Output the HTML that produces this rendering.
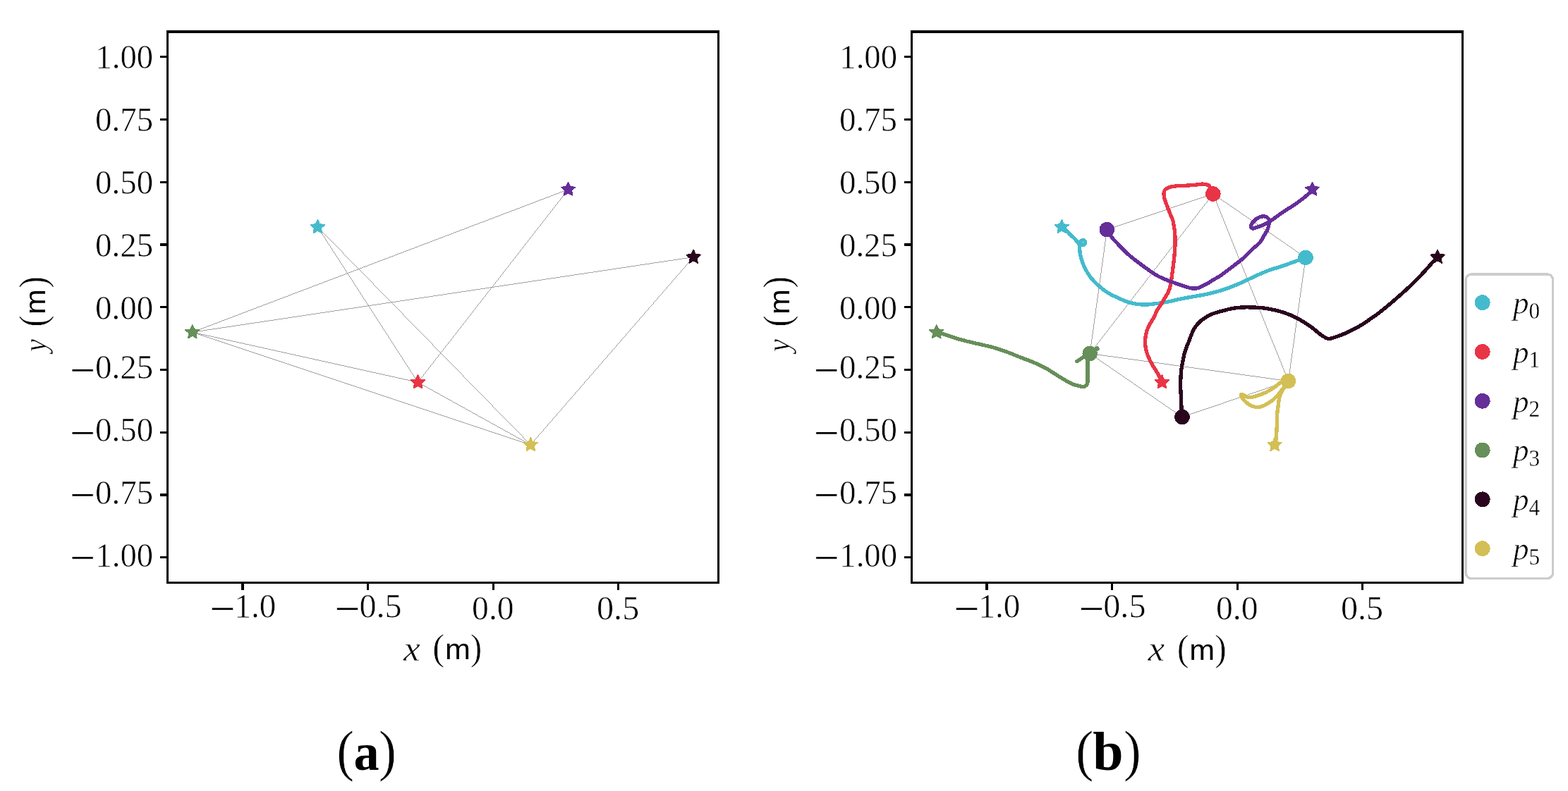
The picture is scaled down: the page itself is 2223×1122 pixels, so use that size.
<!DOCTYPE html><html><head><meta charset="utf-8"><title>Trajectories</title>
<style>html,body{margin:0;padding:0;background:#fff;overflow:hidden}svg{display:block}text{fill:#000;stroke:#fff;stroke-width:0.6px;stroke-linejoin:round}</style></head><body>
<svg width="2223" height="1122" viewBox="0 0 2223 1122">
<rect width="2223" height="1122" fill="#fff"/>
<g>
<line x1="272.82" y1="471.21" x2="805.54" y2="268.78" stroke="#999999" stroke-width="0.935" shape-rendering="crispEdges"/>
<line x1="272.82" y1="471.21" x2="983.12" y2="364.67" stroke="#9f9f9f" stroke-width="0.989" shape-rendering="crispEdges"/>
<line x1="272.82" y1="471.21" x2="592.46" y2="542.25" stroke="#9e9e9e" stroke-width="0.976" shape-rendering="crispEdges"/>
<line x1="272.82" y1="471.21" x2="752.27" y2="631.03" stroke="#9b9b9b" stroke-width="0.949" shape-rendering="crispEdges"/>
<line x1="450.40" y1="322.05" x2="592.46" y2="542.25" stroke="#8e8e8e" stroke-width="0.840" shape-rendering="crispEdges"/>
<line x1="450.40" y1="322.05" x2="752.27" y2="631.03" stroke="#7a7a7a" stroke-width="0.715" shape-rendering="crispEdges"/>
<line x1="805.54" y1="268.78" x2="592.46" y2="542.25" stroke="#878787" stroke-width="0.789" shape-rendering="crispEdges"/>
<line x1="983.12" y1="364.67" x2="752.27" y2="631.03" stroke="#818181" stroke-width="0.756" shape-rendering="crispEdges"/>
<line x1="592.46" y1="542.25" x2="752.27" y2="631.03" stroke="#929292" stroke-width="0.874" shape-rendering="crispEdges"/>
<g shape-rendering="crispEdges"><polygon points="450.40,311.95 447.54,318.13 440.79,318.93 445.78,323.55 444.46,330.22 450.40,326.90 456.33,330.22 455.01,323.55 460.00,318.93 453.25,318.13" fill="#44bbcc" stroke="#44bbcc" stroke-width="1.8" stroke-linejoin="round"/></g>
<g shape-rendering="crispEdges"><polygon points="592.46,532.14 589.60,538.32 582.85,539.12 587.84,543.74 586.52,550.42 592.46,547.10 598.39,550.42 597.07,543.74 602.06,539.12 595.31,538.32" fill="#e93446" stroke="#e93446" stroke-width="1.8" stroke-linejoin="round"/></g>
<g shape-rendering="crispEdges"><polygon points="805.54,258.68 802.69,264.86 795.94,265.66 800.93,270.28 799.61,276.95 805.54,273.63 811.48,276.95 810.16,270.28 815.15,265.66 808.40,264.86" fill="#662e99" stroke="#662e99" stroke-width="1.8" stroke-linejoin="round"/></g>
<g shape-rendering="crispEdges"><polygon points="272.82,461.11 269.97,467.29 263.21,468.09 268.21,472.71 266.88,479.39 272.82,476.06 278.76,479.39 277.43,472.71 282.43,468.09 275.67,467.29" fill="#678f59" stroke="#678f59" stroke-width="1.8" stroke-linejoin="round"/></g>
<g shape-rendering="crispEdges"><polygon points="983.12,354.57 980.27,360.75 973.51,361.55 978.51,366.17 977.18,372.84 983.12,369.52 989.06,372.84 987.73,366.17 992.73,361.55 985.97,360.75" fill="#2a061e" stroke="#2a061e" stroke-width="1.8" stroke-linejoin="round"/></g>
<g shape-rendering="crispEdges"><polygon points="752.27,620.93 749.42,627.11 742.67,627.91 747.66,632.53 746.34,639.20 752.27,635.88 758.21,639.20 756.89,632.53 761.88,627.91 755.12,627.11" fill="#d3bf55" stroke="#d3bf55" stroke-width="1.8" stroke-linejoin="round"/></g>
</g>
<g>
<line x1="1719.85" y1="275.05" x2="1569.40" y2="325.60" stroke="#9b9b9b" stroke-width="0.948" shape-rendering="crispEdges"/>
<line x1="1719.85" y1="275.05" x2="1545.20" y2="501.50" stroke="#878787" stroke-width="0.792" shape-rendering="crispEdges"/>
<line x1="1719.85" y1="275.05" x2="1851.00" y2="365.30" stroke="#8c8c8c" stroke-width="0.824" shape-rendering="crispEdges"/>
<line x1="1719.85" y1="275.05" x2="1826.50" y2="540.50" stroke="#999999" stroke-width="0.928" shape-rendering="crispEdges"/>
<line x1="1569.40" y1="325.60" x2="1545.20" y2="501.50" stroke="#9f9f9f" stroke-width="0.991" shape-rendering="crispEdges"/>
<line x1="1851.00" y1="365.30" x2="1826.50" y2="540.50" stroke="#9f9f9f" stroke-width="0.990" shape-rendering="crispEdges"/>
<line x1="1545.20" y1="501.50" x2="1826.50" y2="540.50" stroke="#9f9f9f" stroke-width="0.991" shape-rendering="crispEdges"/>
<line x1="1545.20" y1="501.50" x2="1676.00" y2="591.50" stroke="#8c8c8c" stroke-width="0.824" shape-rendering="crispEdges"/>
<line x1="1676.00" y1="591.50" x2="1826.50" y2="540.50" stroke="#9b9b9b" stroke-width="0.947" shape-rendering="crispEdges"/>
<g shape-rendering="crispEdges">
<path d="M1505.40,322.10C1506.40,322.87 1509.22,324.75 1511.40,326.70C1513.58,328.65 1516.05,331.35 1518.50,333.80C1520.95,336.25 1524.22,339.28 1526.10,341.40C1527.98,343.52 1529.03,344.60 1529.80,346.50C1530.57,348.40 1530.40,350.27 1530.70,352.80C1531.00,355.33 1530.93,358.43 1531.60,361.70C1532.27,364.97 1533.37,368.83 1534.70,372.40C1536.03,375.97 1537.75,379.68 1539.60,383.10C1541.45,386.52 1543.42,389.78 1545.80,392.90C1548.18,396.02 1551.07,398.98 1553.90,401.80C1556.73,404.62 1559.53,407.27 1562.80,409.80C1566.07,412.33 1569.80,414.88 1573.50,417.00C1577.20,419.12 1580.75,420.60 1585.00,422.50C1589.25,424.40 1594.42,426.90 1599.00,428.40C1603.58,429.90 1608.00,430.90 1612.50,431.50C1617.00,432.10 1622.25,432.07 1626.00,432.00C1629.75,431.93 1632.00,431.43 1635.00,431.10C1638.00,430.77 1640.25,430.57 1644.00,430.00C1647.75,429.43 1653.00,428.60 1657.50,427.70C1662.00,426.80 1665.58,425.72 1671.00,424.60C1676.42,423.48 1683.08,422.28 1690.00,421.00C1696.92,419.72 1705.00,418.60 1712.50,416.90C1720.00,415.20 1727.50,413.28 1735.00,410.80C1742.50,408.32 1750.00,405.22 1757.50,402.00C1765.00,398.78 1773.25,394.53 1780.00,391.50C1786.75,388.47 1792.00,386.05 1798.00,383.80C1804.00,381.55 1810.00,380.02 1816.00,378.00C1822.00,375.98 1828.17,373.82 1834.00,371.70C1839.83,369.58 1848.17,366.37 1851.00,365.30" fill="none" stroke="#44bbcc" stroke-width="5.30" stroke-linejoin="round" stroke-linecap="round"/>
<circle cx="1535.3" cy="343.9" r="3.3" fill="none" stroke="#44bbcc" stroke-width="5.6"/>
<circle cx="1851.00" cy="365.30" r="10.75" fill="#44bbcc"/>
<polygon points="1505.30,311.95 1502.44,318.13 1495.69,318.93 1500.68,323.55 1499.36,330.22 1505.30,326.90 1511.23,330.22 1509.91,323.55 1514.90,318.93 1508.15,318.13" fill="#44bbcc" stroke="#44bbcc" stroke-width="1.8" stroke-linejoin="round"/>
<path d="M1719.85,275.05C1718.96,273.18 1716.28,266.04 1714.50,263.80C1712.72,261.56 1710.98,262.05 1709.20,261.60C1707.42,261.15 1706.48,260.97 1703.80,261.10C1701.12,261.23 1697.55,262.00 1693.10,262.40C1688.65,262.80 1681.55,263.23 1677.10,263.50C1672.65,263.77 1669.52,263.68 1666.40,264.00C1663.28,264.32 1660.63,264.73 1658.40,265.40C1656.17,266.07 1654.35,266.85 1653.00,268.00C1651.65,269.15 1650.75,270.52 1650.30,272.30C1649.85,274.08 1650.02,276.55 1650.30,278.70C1650.58,280.85 1651.28,282.97 1652.00,285.20C1652.72,287.43 1653.72,289.78 1654.60,292.10C1655.48,294.42 1656.40,296.78 1657.30,299.10C1658.20,301.42 1658.98,303.35 1660.00,306.00C1661.02,308.65 1662.38,309.78 1663.40,315.00C1664.42,320.22 1665.80,329.87 1666.10,337.30C1666.40,344.73 1665.77,352.18 1665.20,359.60C1664.63,367.02 1663.65,374.32 1662.70,381.80C1661.75,389.28 1660.60,399.05 1659.50,404.50C1658.40,409.95 1657.48,411.42 1656.10,414.50C1654.72,417.58 1652.92,420.08 1651.20,423.00C1649.48,425.92 1647.57,429.17 1645.80,432.00C1644.03,434.83 1642.23,437.03 1640.60,440.00C1638.97,442.97 1637.72,446.53 1636.00,449.80C1634.28,453.07 1631.98,456.33 1630.30,459.60C1628.62,462.87 1626.97,466.13 1625.90,469.40C1624.83,472.67 1624.27,475.93 1623.90,479.20C1623.53,482.47 1623.45,485.73 1623.70,489.00C1623.95,492.27 1624.50,495.53 1625.40,498.80C1626.30,502.07 1627.63,505.33 1629.10,508.60C1630.57,511.87 1632.32,515.13 1634.20,518.40C1636.08,521.67 1638.20,524.23 1640.40,528.20C1642.60,532.17 1646.23,539.87 1647.40,542.20" fill="none" stroke="#e93446" stroke-width="5.30" stroke-linejoin="round" stroke-linecap="round"/>
<circle cx="1719.85" cy="275.05" r="10.75" fill="#e93446"/>
<polygon points="1647.36,532.14 1644.50,538.32 1637.75,539.12 1642.74,543.74 1641.42,550.42 1647.36,547.10 1653.29,550.42 1651.97,543.74 1656.96,539.12 1650.21,538.32" fill="#e93446" stroke="#e93446" stroke-width="1.8" stroke-linejoin="round"/>
<path d="M1569.40,325.60C1570.50,327.40 1573.12,332.67 1576.00,336.40C1578.88,340.13 1582.68,343.85 1586.70,348.00C1590.72,352.15 1595.63,357.30 1600.10,361.30C1604.57,365.30 1609.05,368.58 1613.50,372.00C1617.95,375.42 1622.35,378.67 1626.80,381.80C1631.25,384.93 1635.73,388.27 1640.20,390.80C1644.67,393.33 1649.13,395.15 1653.60,397.00C1658.07,398.85 1662.55,400.33 1667.00,401.90C1671.45,403.47 1676.47,405.22 1680.30,406.40C1684.13,407.58 1686.88,408.68 1690.00,409.00C1693.12,409.32 1695.25,409.50 1699.00,408.30C1702.75,407.10 1709.00,403.68 1712.50,401.80C1716.00,399.92 1717.27,398.65 1720.00,397.00C1722.73,395.35 1725.93,393.83 1728.90,391.90C1731.87,389.97 1734.83,387.58 1737.80,385.40C1740.77,383.22 1743.72,381.07 1746.70,378.80C1749.68,376.53 1752.72,374.18 1755.70,371.80C1758.68,369.42 1761.38,367.48 1764.60,364.50C1767.82,361.52 1771.42,357.30 1775.00,353.90C1778.58,350.50 1783.27,347.37 1786.10,344.10C1788.93,340.83 1790.28,337.15 1792.00,334.30C1793.72,331.45 1795.27,329.45 1796.40,327.00C1797.53,324.55 1798.32,322.05 1798.80,319.60C1799.28,317.15 1799.70,314.18 1799.30,312.30C1798.90,310.42 1797.53,309.20 1796.40,308.30C1795.27,307.40 1794.05,307.05 1792.50,306.90C1790.95,306.75 1788.82,306.92 1787.10,307.40C1785.38,307.88 1783.77,308.75 1782.20,309.80C1780.63,310.85 1779.02,312.32 1777.70,313.70C1776.38,315.08 1775.03,316.70 1774.30,318.10C1773.57,319.50 1773.05,321.12 1773.30,322.10C1773.55,323.08 1774.90,323.77 1775.80,324.00C1776.70,324.23 1776.82,324.07 1778.70,323.50C1780.58,322.93 1784.48,321.65 1787.10,320.60C1789.72,319.55 1792.20,318.30 1794.40,317.20C1796.60,316.10 1798.25,315.27 1800.30,314.00C1802.35,312.73 1804.42,311.22 1806.70,309.60C1808.98,307.98 1811.55,306.05 1814.00,304.30C1816.45,302.55 1818.38,301.08 1821.40,299.10C1824.42,297.12 1828.53,294.75 1832.10,292.40C1835.67,290.05 1839.23,287.67 1842.80,285.00C1846.37,282.33 1850.55,279.10 1853.50,276.40C1856.45,273.70 1859.33,270.07 1860.50,268.80" fill="none" stroke="#662e99" stroke-width="5.30" stroke-linejoin="round" stroke-linecap="round"/>
<circle cx="1569.40" cy="325.60" r="10.75" fill="#662e99"/>
<polygon points="1860.45,258.68 1857.59,264.86 1850.84,265.66 1855.83,270.28 1854.51,276.95 1860.45,273.63 1866.38,276.95 1865.06,270.28 1870.05,265.66 1863.30,264.86" fill="#662e99" stroke="#662e99" stroke-width="1.8" stroke-linejoin="round"/>
<path d="M1328.00,471.20C1329.83,471.72 1334.17,472.77 1339.00,474.30C1343.83,475.83 1351.00,478.60 1357.00,480.40C1363.00,482.20 1369.00,483.63 1375.00,485.10C1381.00,486.57 1387.00,487.77 1393.00,489.20C1399.00,490.63 1405.00,491.93 1411.00,493.70C1417.00,495.47 1423.00,497.58 1429.00,499.80C1435.00,502.02 1441.00,504.65 1447.00,507.00C1453.00,509.35 1459.00,511.32 1465.00,513.90C1471.00,516.48 1477.02,519.20 1483.00,522.50C1488.98,525.80 1494.92,530.10 1500.90,533.70C1506.88,537.30 1514.05,541.80 1518.90,544.10C1523.75,546.40 1527.15,546.77 1530.00,547.50C1532.85,548.23 1534.30,548.67 1536.00,548.50C1537.70,548.33 1539.20,547.50 1540.20,546.50C1541.20,545.50 1541.68,545.25 1542.00,542.50C1542.32,539.75 1542.08,535.08 1542.10,530.00C1542.12,524.92 1541.58,516.75 1542.10,512.00C1542.62,507.25 1544.68,503.25 1545.20,501.50" fill="none" stroke="#678f59" stroke-width="5.30" stroke-linejoin="round" stroke-linecap="round"/>
<path d="M1526.8,512.6 L1536.0,506.5" fill="none" stroke="#678f59" stroke-width="5.20" stroke-linejoin="round" stroke-linecap="round"/>
<path d="M1548.0,499.0 L1555.3,494.6" fill="none" stroke="#678f59" stroke-width="6.60" stroke-linejoin="round" stroke-linecap="round"/>
<circle cx="1545.20" cy="501.50" r="10.75" fill="#678f59"/>
<polygon points="1327.72,461.11 1324.87,467.29 1318.11,468.09 1323.11,472.71 1321.78,479.39 1327.72,476.06 1333.66,479.39 1332.33,472.71 1337.33,468.09 1330.57,467.29" fill="#678f59" stroke="#678f59" stroke-width="1.8" stroke-linejoin="round"/>
<path d="M1676.00,591.50C1675.85,589.57 1675.37,584.68 1675.10,579.90C1674.83,575.12 1674.65,568.33 1674.40,562.80C1674.15,557.27 1673.67,551.33 1673.60,546.70C1673.53,542.07 1673.77,538.95 1674.00,535.00C1674.23,531.05 1674.53,526.63 1675.00,523.00C1675.47,519.37 1676.18,516.47 1676.80,513.20C1677.42,509.93 1677.88,506.67 1678.70,503.40C1679.52,500.13 1680.55,496.83 1681.70,493.60C1682.85,490.37 1684.40,487.08 1685.60,484.00C1686.80,480.92 1687.75,477.92 1688.90,475.10C1690.05,472.28 1691.23,469.40 1692.50,467.10C1693.77,464.80 1695.02,463.17 1696.50,461.30C1697.98,459.43 1699.70,457.47 1701.40,455.90C1703.10,454.33 1704.70,453.23 1706.70,451.90C1708.70,450.57 1711.17,449.08 1713.40,447.90C1715.63,446.72 1717.50,445.77 1720.10,444.80C1722.70,443.83 1726.35,442.87 1729.00,442.10C1731.65,441.33 1733.50,440.85 1736.00,440.20C1738.50,439.55 1741.13,438.80 1744.00,438.20C1746.87,437.60 1750.03,436.98 1753.20,436.60C1756.37,436.22 1758.50,435.98 1763.00,435.90C1767.50,435.82 1775.08,435.87 1780.20,436.10C1785.32,436.33 1789.20,436.68 1793.70,437.30C1798.20,437.92 1802.70,438.75 1807.20,439.80C1811.70,440.85 1816.20,442.07 1820.70,443.60C1825.20,445.13 1829.70,446.87 1834.20,449.00C1838.70,451.13 1843.20,453.65 1847.70,456.40C1852.20,459.15 1857.27,462.58 1861.20,465.50C1865.13,468.42 1867.92,471.48 1871.30,473.90C1874.68,476.32 1878.68,479.03 1881.50,480.00C1884.32,480.97 1885.40,480.32 1888.20,479.70C1891.00,479.08 1894.67,477.65 1898.30,476.30C1901.93,474.95 1905.27,473.82 1910.00,471.60C1914.73,469.38 1921.68,465.88 1926.70,463.00C1931.72,460.12 1935.63,457.32 1940.10,454.30C1944.57,451.28 1949.05,448.23 1953.50,444.90C1957.95,441.57 1962.35,437.97 1966.80,434.30C1971.25,430.63 1975.73,426.80 1980.20,422.90C1984.67,419.00 1989.13,415.02 1993.60,410.90C1998.07,406.78 2002.55,402.67 2007.00,398.20C2011.45,393.73 2016.30,388.45 2020.30,384.10C2024.30,379.75 2028.05,375.33 2031.00,372.10C2033.95,368.87 2036.83,365.93 2038.00,364.70" fill="none" stroke="#2a061e" stroke-width="5.30" stroke-linejoin="round" stroke-linecap="round"/>
<circle cx="1676.00" cy="591.50" r="10.75" fill="#2a061e"/>
<polygon points="2038.02,354.57 2035.17,360.75 2028.41,361.55 2033.41,366.17 2032.08,372.84 2038.02,369.52 2043.96,372.84 2042.63,366.17 2047.63,361.55 2040.87,360.75" fill="#2a061e" stroke="#2a061e" stroke-width="1.8" stroke-linejoin="round"/>
<path d="M1826.50,540.50C1824.70,540.87 1818.72,541.43 1815.70,542.70C1812.68,543.97 1810.85,546.38 1808.40,548.10C1805.95,549.82 1803.45,551.52 1801.00,553.00C1798.55,554.48 1796.15,555.85 1793.70,557.00C1791.25,558.15 1788.75,559.00 1786.30,559.90C1783.85,560.80 1781.45,561.75 1779.00,562.40C1776.55,563.05 1773.65,563.80 1771.60,563.80C1769.55,563.80 1768.33,563.05 1766.70,562.40C1765.07,561.75 1763.03,560.22 1761.80,559.90C1760.57,559.58 1759.47,559.85 1759.30,560.50C1759.13,561.15 1759.97,562.52 1760.80,563.80C1761.63,565.08 1762.90,566.73 1764.30,568.20C1765.70,569.67 1767.57,571.37 1769.20,572.60C1770.83,573.83 1772.07,574.78 1774.10,575.60C1776.13,576.42 1778.95,577.33 1781.40,577.50C1783.85,577.67 1786.35,577.33 1788.80,576.60C1791.25,575.87 1793.65,574.50 1796.10,573.10C1798.55,571.70 1801.45,569.75 1803.50,568.20C1805.55,566.65 1806.77,565.43 1808.40,563.80C1810.03,562.17 1811.83,560.20 1813.30,558.40C1814.77,556.60 1815.98,554.47 1817.20,553.00C1818.42,551.53 1820.03,550.17 1820.60,549.60" fill="none" stroke="#d3bf55" stroke-width="5.30" stroke-linejoin="round" stroke-linecap="round"/>
<path d="M1820.60,549.60C1820.23,550.25 1819.30,551.87 1818.40,553.50C1817.50,555.13 1816.05,557.18 1815.20,559.40C1814.35,561.62 1813.83,563.93 1813.30,566.80C1812.77,569.67 1812.40,573.57 1812.00,576.60C1811.60,579.63 1811.13,581.95 1810.90,585.00C1810.67,588.05 1810.80,589.68 1810.60,594.90C1810.40,600.12 1810.05,610.95 1809.70,616.30C1809.35,621.65 1808.92,624.55 1808.50,627.00C1808.08,629.45 1807.42,630.33 1807.20,631.00" fill="none" stroke="#d3bf55" stroke-width="5.30" stroke-linejoin="round" stroke-linecap="round"/>
<circle cx="1826.50" cy="540.50" r="10.75" fill="#d3bf55"/>
<polygon points="1807.17,620.93 1804.32,627.11 1797.57,627.91 1802.56,632.53 1801.24,639.20 1807.17,635.88 1813.11,639.20 1811.79,632.53 1816.78,627.91 1810.02,627.11" fill="#d3bf55" stroke="#d3bf55" stroke-width="1.8" stroke-linejoin="round"/>
</g>
</g>
<rect x="237.50" y="45.05" width="781.00" height="781.35" fill="none" stroke="#000" stroke-width="3.20" shape-rendering="crispEdges"/>
<path d="M237.50,80.55H227.20M237.50,169.34H227.20M237.50,258.12H227.20M237.50,346.91H227.20M237.50,435.70H227.20M237.50,524.49H227.20M237.50,613.27H227.20M237.50,702.06H227.20M237.50,790.85H227.20M344.04,826.40V836.80M521.62,826.40V836.80M699.19,826.40V836.80M876.77,826.40V836.80" stroke="#000" stroke-width="3.20" fill="none" shape-rendering="crispEdges"/>
<rect x="1292.40" y="45.05" width="781.00" height="781.35" fill="none" stroke="#000" stroke-width="3.20" shape-rendering="crispEdges"/>
<path d="M1292.40,80.55H1282.10M1292.40,169.34H1282.10M1292.40,258.12H1282.10M1292.40,346.91H1282.10M1292.40,435.70H1282.10M1292.40,524.49H1282.10M1292.40,613.27H1282.10M1292.40,702.06H1282.10M1292.40,790.85H1282.10M1398.95,826.40V836.80M1576.52,826.40V836.80M1754.10,826.40V836.80M1931.67,826.40V836.80" stroke="#000" stroke-width="3.20" fill="none" shape-rendering="crispEdges"/>
<rect x="2078.0" y="389.0" width="123.7" height="431.5" rx="8" ry="8" fill="#fff" stroke="#cccccc" stroke-width="3.4" shape-rendering="crispEdges"/>
<circle cx="2101.7" cy="429.20" r="10.9" fill="#44bbcc" shape-rendering="crispEdges"/>
<circle cx="2101.7" cy="498.98" r="10.9" fill="#e93446" shape-rendering="crispEdges"/>
<circle cx="2101.7" cy="568.76" r="10.9" fill="#662e99" shape-rendering="crispEdges"/>
<circle cx="2101.7" cy="638.54" r="10.9" fill="#678f59" shape-rendering="crispEdges"/>
<circle cx="2101.7" cy="708.32" r="10.9" fill="#2a061e" shape-rendering="crispEdges"/>
<circle cx="2101.7" cy="778.10" r="10.9" fill="#d3bf55" shape-rendering="crispEdges"/>
<text transform="matrix(0.9634,0,0,1,135.40,97.47)" style="font-family:'Liberation Serif', 'DejaVu Serif', serif;font-size:48.48px;">1.00</text>
<text transform="matrix(0.9675,0,0,1,135.05,186.25)" style="font-family:'Liberation Serif', 'DejaVu Serif', serif;font-size:48.48px;">0.75</text>
<text transform="matrix(0.9675,0,0,1,135.05,275.04)" style="font-family:'Liberation Serif', 'DejaVu Serif', serif;font-size:48.48px;">0.50</text>
<text transform="matrix(0.9675,0,0,1,135.05,363.83)" style="font-family:'Liberation Serif', 'DejaVu Serif', serif;font-size:48.48px;">0.25</text>
<text transform="matrix(0.9675,0,0,1,135.05,452.62)" style="font-family:'Liberation Serif', 'DejaVu Serif', serif;font-size:48.48px;">0.00</text>
<text transform="matrix(0.9431,0,0,1,98.93,547.85)" style="font-family:'Liberation Serif', 'DejaVu Serif', serif;font-size:68.33px;">−</text>
<text transform="matrix(0.9767,0,0,1,135.05,537.31)" style="font-family:'Liberation Serif', 'DejaVu Serif', serif;font-size:48.03px;">0.25</text>
<text transform="matrix(0.9431,0,0,1,98.93,636.64)" style="font-family:'Liberation Serif', 'DejaVu Serif', serif;font-size:68.33px;">−</text>
<text transform="matrix(0.9767,0,0,1,135.05,626.09)" style="font-family:'Liberation Serif', 'DejaVu Serif', serif;font-size:48.03px;">0.50</text>
<text transform="matrix(0.9431,0,0,1,98.93,725.43)" style="font-family:'Liberation Serif', 'DejaVu Serif', serif;font-size:68.33px;">−</text>
<text transform="matrix(0.9767,0,0,1,135.05,714.88)" style="font-family:'Liberation Serif', 'DejaVu Serif', serif;font-size:48.03px;">0.75</text>
<text transform="matrix(0.9431,0,0,1,98.93,814.22)" style="font-family:'Liberation Serif', 'DejaVu Serif', serif;font-size:68.33px;">−</text>
<text transform="matrix(0.9725,0,0,1,135.40,803.67)" style="font-family:'Liberation Serif', 'DejaVu Serif', serif;font-size:48.03px;">1.00</text>
<text transform="matrix(0.8848,0,0,1,297.01,888.47)" style="font-family:'Liberation Serif', 'DejaVu Serif', serif;font-size:73.33px;">−</text>
<text transform="matrix(0.9684,0,0,1,332.57,876.36)" style="font-family:'Liberation Serif', 'DejaVu Serif', serif;font-size:48.56px;">1.0</text>
<text transform="matrix(0.8758,0,0,1,474.25,888.47)" style="font-family:'Liberation Serif', 'DejaVu Serif', serif;font-size:73.33px;">−</text>
<text transform="matrix(0.9920,0,0,1,509.39,876.36)" style="font-family:'Liberation Serif', 'DejaVu Serif', serif;font-size:48.56px;">0.5</text>
<text transform="matrix(0.9798,0,0,1,669.12,879.21)" style="font-family:'Liberation Serif', 'DejaVu Serif', serif;font-size:48.64px;">0.0</text>
<text transform="matrix(0.9923,0,0,1,845.99,879.21)" style="font-family:'Liberation Serif', 'DejaVu Serif', serif;font-size:48.64px;">0.5</text>
<text transform="matrix(1.0507,0,0,1,572.00,936.71)" style="font-family:'Liberation Serif', 'DejaVu Serif', serif;font-size:50.91px;font-style:italic;">x</text>
<text transform="matrix(0.9477,0,0,1,613.36,936.27)" style="font-family:'Liberation Serif', 'DejaVu Serif', serif;font-size:53.64px;">(</text>
<text transform="matrix(1.0590,0,0,1,630.88,935.10)" style="font-family:'Liberation Sans', 'DejaVu Sans', sans-serif;font-size:40.74px;stroke:none;">m</text>
<text transform="matrix(0.9244,0,0,1,666.82,936.27)" style="font-family:'Liberation Serif', 'DejaVu Serif', serif;font-size:53.64px;">)</text>
<text transform="rotate(-90) matrix(0.8600,0,0,1,-498.95,64.52)" style="font-family:'Liberation Serif', 'DejaVu Serif', serif;font-size:47.42px;font-style:italic;">y</text>
<text transform="rotate(-90) matrix(0.8954,0,0,1,-463.52,65.40)" style="font-family:'Liberation Serif', 'DejaVu Serif', serif;font-size:53.98px;">(</text>
<text transform="rotate(-90) matrix(1.0555,0,0,1,-446.11,64.10)" style="font-family:'Liberation Sans', 'DejaVu Sans', sans-serif;font-size:40.74px;stroke:none;">m</text>
<text transform="rotate(-90) matrix(0.9186,0,0,1,-408.58,65.40)" style="font-family:'Liberation Serif', 'DejaVu Serif', serif;font-size:53.98px;">)</text>
<text transform="matrix(0.9634,0,0,1,1190.30,97.47)" style="font-family:'Liberation Serif', 'DejaVu Serif', serif;font-size:48.48px;">1.00</text>
<text transform="matrix(0.9675,0,0,1,1189.95,186.25)" style="font-family:'Liberation Serif', 'DejaVu Serif', serif;font-size:48.48px;">0.75</text>
<text transform="matrix(0.9675,0,0,1,1189.95,275.04)" style="font-family:'Liberation Serif', 'DejaVu Serif', serif;font-size:48.48px;">0.50</text>
<text transform="matrix(0.9675,0,0,1,1189.95,363.83)" style="font-family:'Liberation Serif', 'DejaVu Serif', serif;font-size:48.48px;">0.25</text>
<text transform="matrix(0.9675,0,0,1,1189.95,452.62)" style="font-family:'Liberation Serif', 'DejaVu Serif', serif;font-size:48.48px;">0.00</text>
<text transform="matrix(0.9431,0,0,1,1153.83,547.85)" style="font-family:'Liberation Serif', 'DejaVu Serif', serif;font-size:68.33px;">−</text>
<text transform="matrix(0.9767,0,0,1,1189.95,537.31)" style="font-family:'Liberation Serif', 'DejaVu Serif', serif;font-size:48.03px;">0.25</text>
<text transform="matrix(0.9431,0,0,1,1153.83,636.64)" style="font-family:'Liberation Serif', 'DejaVu Serif', serif;font-size:68.33px;">−</text>
<text transform="matrix(0.9767,0,0,1,1189.95,626.09)" style="font-family:'Liberation Serif', 'DejaVu Serif', serif;font-size:48.03px;">0.50</text>
<text transform="matrix(0.9431,0,0,1,1153.83,725.43)" style="font-family:'Liberation Serif', 'DejaVu Serif', serif;font-size:68.33px;">−</text>
<text transform="matrix(0.9767,0,0,1,1189.95,714.88)" style="font-family:'Liberation Serif', 'DejaVu Serif', serif;font-size:48.03px;">0.75</text>
<text transform="matrix(0.9431,0,0,1,1153.83,814.22)" style="font-family:'Liberation Serif', 'DejaVu Serif', serif;font-size:68.33px;">−</text>
<text transform="matrix(0.9725,0,0,1,1190.30,803.67)" style="font-family:'Liberation Serif', 'DejaVu Serif', serif;font-size:48.03px;">1.00</text>
<text transform="matrix(0.8848,0,0,1,1351.91,888.47)" style="font-family:'Liberation Serif', 'DejaVu Serif', serif;font-size:73.33px;">−</text>
<text transform="matrix(0.9684,0,0,1,1387.47,876.36)" style="font-family:'Liberation Serif', 'DejaVu Serif', serif;font-size:48.56px;">1.0</text>
<text transform="matrix(0.8758,0,0,1,1529.15,888.47)" style="font-family:'Liberation Serif', 'DejaVu Serif', serif;font-size:73.33px;">−</text>
<text transform="matrix(0.9920,0,0,1,1564.29,876.36)" style="font-family:'Liberation Serif', 'DejaVu Serif', serif;font-size:48.56px;">0.5</text>
<text transform="matrix(0.9798,0,0,1,1724.02,879.21)" style="font-family:'Liberation Serif', 'DejaVu Serif', serif;font-size:48.64px;">0.0</text>
<text transform="matrix(0.9923,0,0,1,1900.89,879.21)" style="font-family:'Liberation Serif', 'DejaVu Serif', serif;font-size:48.64px;">0.5</text>
<text transform="matrix(1.0507,0,0,1,1627.40,937.21)" style="font-family:'Liberation Serif', 'DejaVu Serif', serif;font-size:50.91px;font-style:italic;">x</text>
<text transform="matrix(0.9477,0,0,1,1668.76,936.77)" style="font-family:'Liberation Serif', 'DejaVu Serif', serif;font-size:53.64px;">(</text>
<text transform="matrix(1.0590,0,0,1,1686.28,935.60)" style="font-family:'Liberation Sans', 'DejaVu Sans', sans-serif;font-size:40.74px;stroke:none;">m</text>
<text transform="matrix(0.9244,0,0,1,1722.22,936.77)" style="font-family:'Liberation Serif', 'DejaVu Serif', serif;font-size:53.64px;">)</text>
<text transform="rotate(-90) matrix(0.8600,0,0,1,-498.95,1119.42)" style="font-family:'Liberation Serif', 'DejaVu Serif', serif;font-size:47.42px;font-style:italic;">y</text>
<text transform="rotate(-90) matrix(0.8954,0,0,1,-463.52,1120.30)" style="font-family:'Liberation Serif', 'DejaVu Serif', serif;font-size:53.98px;">(</text>
<text transform="rotate(-90) matrix(1.0555,0,0,1,-446.11,1119.00)" style="font-family:'Liberation Sans', 'DejaVu Sans', sans-serif;font-size:40.74px;stroke:none;">m</text>
<text transform="rotate(-90) matrix(0.9186,0,0,1,-408.58,1120.30)" style="font-family:'Liberation Serif', 'DejaVu Serif', serif;font-size:53.98px;">)</text>
<text transform="matrix(0.9376,0,0,1,477.17,1091.89)" style="font-family:'Liberation Serif', 'DejaVu Serif', serif;font-size:79.55px;">(</text>
<text transform="matrix(0.9738,0,0,1,501.53,1091.86)" style="font-family:'Liberation Serif', 'DejaVu Serif', serif;font-size:74.17px;font-weight:bold;stroke:none;">a</text>
<text transform="matrix(0.9533,0,0,1,536.77,1091.89)" style="font-family:'Liberation Serif', 'DejaVu Serif', serif;font-size:79.55px;">)</text>
<text transform="matrix(0.9586,0,0,1,1524.89,1091.89)" style="font-family:'Liberation Serif', 'DejaVu Serif', serif;font-size:79.55px;">(</text>
<text transform="matrix(0.9943,0,0,1,1549.32,1091.82)" style="font-family:'Liberation Serif', 'DejaVu Serif', serif;font-size:78.29px;font-weight:bold;stroke:none;">b</text>
<text transform="matrix(0.9324,0,0,1,1593.03,1091.89)" style="font-family:'Liberation Serif', 'DejaVu Serif', serif;font-size:79.55px;">)</text>
<text transform="matrix(0.9856,0,0,1,2145.05,444.95)" style="font-family:'Liberation Serif', 'DejaVu Serif', serif;font-size:45.76px;font-style:italic;">p</text>
<text transform="matrix(0.9856,0,0,1,2145.05,514.73)" style="font-family:'Liberation Serif', 'DejaVu Serif', serif;font-size:45.76px;font-style:italic;">p</text>
<text transform="matrix(0.9856,0,0,1,2145.05,584.51)" style="font-family:'Liberation Serif', 'DejaVu Serif', serif;font-size:45.76px;font-style:italic;">p</text>
<text transform="matrix(0.9856,0,0,1,2145.05,654.29)" style="font-family:'Liberation Serif', 'DejaVu Serif', serif;font-size:45.76px;font-style:italic;">p</text>
<text transform="matrix(0.9856,0,0,1,2145.05,724.07)" style="font-family:'Liberation Serif', 'DejaVu Serif', serif;font-size:45.76px;font-style:italic;">p</text>
<text transform="matrix(0.9856,0,0,1,2145.05,793.85)" style="font-family:'Liberation Serif', 'DejaVu Serif', serif;font-size:45.76px;font-style:italic;">p</text>
<text transform="matrix(0.9378,0,0,1,2167.55,451.67)" style="font-family:'Liberation Serif', 'DejaVu Serif', serif;font-size:33.26px;stroke-width:0.3px;">0</text>
<text transform="matrix(0.9378,0,0,1,2167.55,521.45)" style="font-family:'Liberation Serif', 'DejaVu Serif', serif;font-size:33.26px;stroke-width:0.3px;">1</text>
<text transform="matrix(0.9378,0,0,1,2167.55,591.23)" style="font-family:'Liberation Serif', 'DejaVu Serif', serif;font-size:33.26px;stroke-width:0.3px;">2</text>
<text transform="matrix(0.9378,0,0,1,2167.55,661.01)" style="font-family:'Liberation Serif', 'DejaVu Serif', serif;font-size:33.26px;stroke-width:0.3px;">3</text>
<text transform="matrix(0.9378,0,0,1,2167.55,730.79)" style="font-family:'Liberation Serif', 'DejaVu Serif', serif;font-size:33.26px;stroke-width:0.3px;">4</text>
<text transform="matrix(0.9378,0,0,1,2167.55,800.57)" style="font-family:'Liberation Serif', 'DejaVu Serif', serif;font-size:33.26px;stroke-width:0.3px;">5</text>
</svg></body></html>
